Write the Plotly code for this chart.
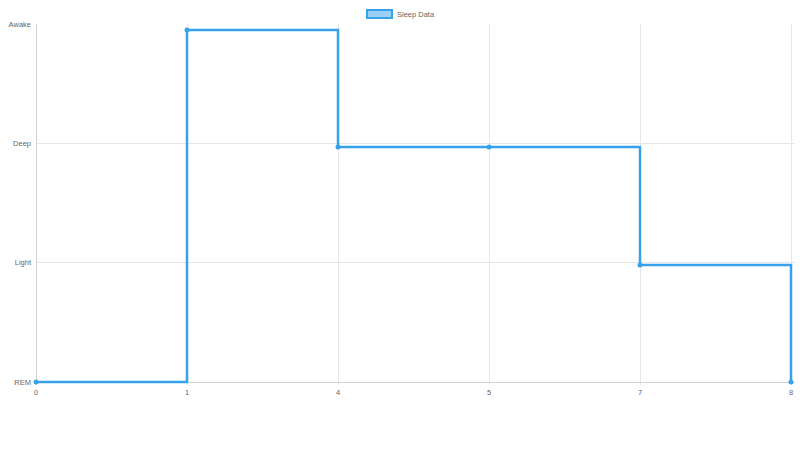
import plotly.graph_objects as go

# sleep stages over time (hours), stepped line
hours = ["0", "1", "4", "5", "7", "8"]
stage_values = [0, 2.95, 1.97, 1.97, 0.98, 0]
stage_labels = ["REM", "Light", "Deep", "Awake"]

blue = "rgb(54,162,235)"
grid = "#e6e6e6"
axis_col = "#d0d0d0"

W, H = 800, 450
# plot area runs a few px past the last category / bottom row so the line isn't clipped
L, T, R, B = 36, 24, 5, 65
pad_x, pad_y = 4, 3
pw, ph = W - L - R, H - T - B
n = len(hours) - 1
x_end = n + pad_x * n / (pw - pad_x)
y_start = -pad_y * 3 / (ph - pad_y)

fig = go.Figure()
fig.add_trace(go.Scatter(
    x=list(range(len(hours))), y=stage_values,
    mode="lines+markers", line_shape="hv",
    line=dict(color=blue, width=2.5),
    marker=dict(color=blue, size=5),
    cliponaxis=False, showlegend=False, name="Sleep Data",
))

# chart.js style legend box
fig.add_shape(type="rect", xref="paper", yref="paper",
              x0=(367 - L) / pw, x1=(392 - L) / pw,
              y0=1 + (T - 18) / ph, y1=1 + (T - 10) / ph,
              fillcolor="rgba(54,162,235,0.5)", line=dict(color=blue, width=2))
fig.add_annotation(text="Sleep Data", xref="paper", yref="paper",
                   x=(395 - L) / pw, y=1 + (T - 14) / ph,
                   xanchor="left", yanchor="middle", showarrow=False,
                   font=dict(size=7.5, color="#666"))

fig.update_layout(
    width=W, height=H,
    margin=dict(l=L, r=R, t=T, b=B),
    paper_bgcolor="white", plot_bgcolor="white",
    font=dict(family="Liberation Sans, Arial", size=7.5, color="#666"),
    xaxis=dict(
        range=[0, x_end],
        tickvals=list(range(len(hours))), ticktext=hours,
        showgrid=True, gridcolor=grid, gridwidth=1,
        zeroline=True, zerolinecolor=axis_col, zerolinewidth=1,
        showline=False, ticks="", ticklabelstandoff=1,
        automargin=False, fixedrange=True,
    ),
    yaxis=dict(
        range=[y_start, 3],
        tickvals=list(range(len(stage_labels))), ticktext=stage_labels,
        showgrid=True, gridcolor=grid, gridwidth=1,
        zeroline=True, zerolinecolor=axis_col, zerolinewidth=1,
        showline=False, ticks="", ticklabelstandoff=4,
        automargin=False, fixedrange=True,
    ),
)

# drop the default page margin so the figure fills the window exactly
fig.write_html("out.html", config={"displayModeBar": False},
               post_script="document.body.style.margin='0';")
